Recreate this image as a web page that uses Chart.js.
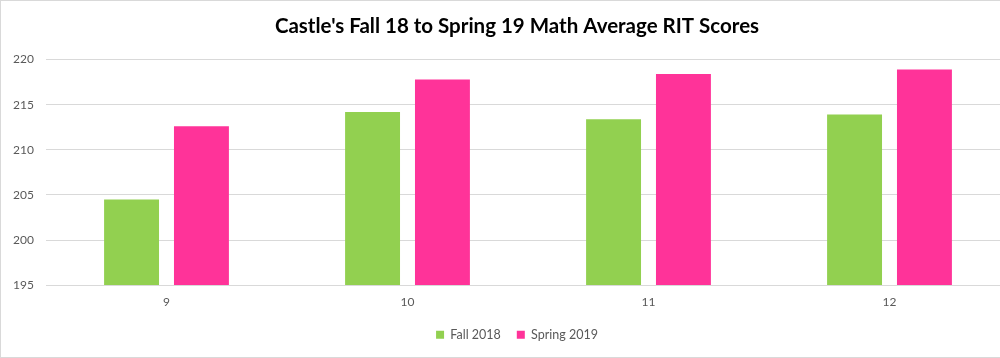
<!DOCTYPE html>
<html>
<head>
<meta charset="utf-8">
<script src="https://cdn.jsdelivr.net/npm/chart.js@4"></script>
<style>
  html, body { margin: 0; padding: 0; background: #fff; overflow: hidden; }
  #wrap { position: absolute; left: 0; top: 0; width: 1032px; height: 356px; border: 1px solid #d9d9d9; background: #fff; }
  canvas { display: block; }
</style>
</head>
<body>
<div id="wrap"><canvas id="c" width="1032" height="356"></canvas></div>
<script>
const categories = ['9', '10', '11', '12'];
const fall2018 = [204.5, 214.2, 213.4, 213.9];
const spring2019 = [212.6, 217.8, 218.4, 218.9];
const yTicks = [195, 200, 205, 210, 215, 220];

const FONT = 'Lato, "Open Sans", sans-serif';
const TXT = '#595959';
const GRID = '#d9d9d9';

new Chart(document.getElementById('c'), {
  type: 'bar',
  data: {
    labels: categories,
    datasets: [
      { label: 'Fall 2018', data: fall2018, backgroundColor: '#92D050', borderWidth: 0, yAxisID: 'y' },
      { label: 'Spring 2019', data: spring2019, backgroundColor: '#FF3399', borderWidth: 0, yAxisID: 'y' }
    ]
  },
  options: {
    responsive: false,
    animation: false,
    categoryPercentage: 0.58,
    barPercentage: 0.786,
    layout: { padding: { left: 0, right: 0, top: 0, bottom: 6 } },
    plugins: {
      title: {
        display: true,
        text: "Castle's Fall 18 to Spring 19 Math Average RIT Scores",
        color: '#000',
        font: { family: FONT, size: 20.5, weight: 'bold' },
        padding: { top: 13, bottom: 21 }
      },
      legend: {
        position: 'bottom',
        labels: {
          color: TXT,
          font: { family: FONT, size: 12.5 },
          boxWidth: 8,
          boxHeight: 8,
          padding: 16
        }
      },
      tooltip: { enabled: false }
    },
    scales: {
      x: {
        grid: { display: false, drawTicks: false },
        border: { display: true, color: GRID, width: 1 },
        ticks: { color: TXT, font: { family: FONT, size: 12 }, padding: 10 },
        afterFit: (axis) => { axis.height = axis.height - 7; }
      },
      y: {
        min: 195,
        max: 220,
        afterBuildTicks: (axis) => { axis.ticks = yTicks.map(v => ({ value: v })); },
        afterFit: (axis) => { axis.width = 45; },
        grid: { color: GRID, lineWidth: 1, drawTicks: false },
        border: { display: false },
        ticks: { color: TXT, font: { family: FONT, size: 12 }, padding: 12 }
      },
      yR: {
        position: 'right',
        min: 195,
        max: 220,
        grid: { display: false, drawTicks: false },
        border: { display: false },
        ticks: { display: false },
        afterFit: (axis) => { axis.width = 23; }
      }
    }
  }
});
</script>
</body>
</html>
